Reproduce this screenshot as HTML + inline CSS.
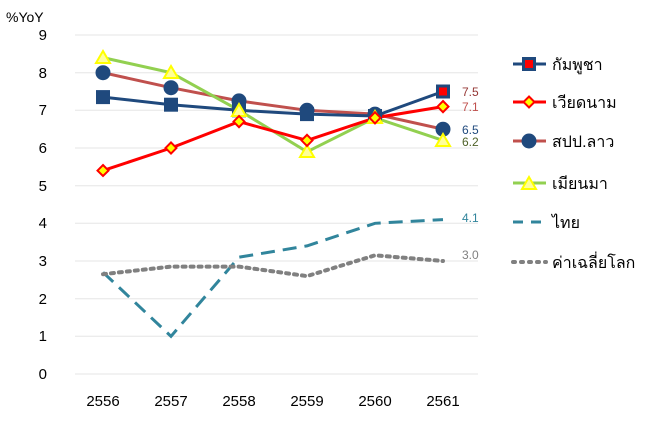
<!DOCTYPE html>
<html><head><meta charset="utf-8"><style>
body{margin:0;background:#fff}
svg{display:block;font-family:"Liberation Sans","DejaVu Sans",sans-serif}
</style></head><body>
<svg width="650" height="430" viewBox="0 0 650 430">
<g stroke="#e6e6e6" stroke-width="1">
<line x1="75" x2="478" y1="374" y2="374"/><line x1="75" x2="478" y1="336.3" y2="336.3"/>
<line x1="75" x2="478" y1="298.7" y2="298.7"/><line x1="75" x2="478" y1="261" y2="261"/>
<line x1="75" x2="478" y1="223.3" y2="223.3"/><line x1="75" x2="478" y1="185.7" y2="185.7"/>
<line x1="75" x2="478" y1="148" y2="148"/><line x1="75" x2="478" y1="110.3" y2="110.3"/>
<line x1="75" x2="478" y1="72.7" y2="72.7"/><line x1="75" x2="478" y1="35" y2="35"/>
</g>
<g font-size="15" fill="#000" text-anchor="end">
<text x="47" y="379">0</text><text x="47" y="341">1</text><text x="47" y="304">2</text>
<text x="47" y="266">3</text><text x="47" y="228">4</text><text x="47" y="191">5</text>
<text x="47" y="153">6</text><text x="47" y="115">7</text><text x="47" y="78">8</text>
<text x="47" y="40">9</text>
</g>
<text x="6" y="22" font-size="14">%YoY</text>
<g font-size="15" text-anchor="middle">
<text x="103" y="406">2556</text><text x="171" y="406">2557</text><text x="239" y="406">2558</text>
<text x="307" y="406">2559</text><text x="375" y="406">2560</text><text x="443" y="406">2561</text>
</g>
<polyline fill="none" stroke="#31859c" stroke-width="3" stroke-dasharray="14,8" points="103,272.3 171,336.3 239,257.2 307,245.9 375,223.3 443,219.6"/>
<polyline fill="none" stroke="#808080" stroke-width="4" stroke-dasharray="3,5" stroke-linecap="round" points="103,274.2 171,266.6 239,266.6 307,276.1 375,255.3 443,261"/>
<polyline fill="none" stroke="#c0504d" stroke-width="3" points="103,72.7 171,87.7 239,100.9 307,110.3 375,114.1 443,129.2"/>
<polyline fill="none" stroke="#92d050" stroke-width="3" points="103,57.6 171,72.7 239,110.3 307,151.8 375,117.8 443,140.4"/>
<polyline fill="none" stroke="#ff0000" stroke-width="3" points="103,170.6 171,148 239,121.6 307,140.4 375,117.8 443,106.6"/>
<polyline fill="none" stroke="#1f497d" stroke-width="3" points="103,97.1 171,104.7 239,110.3 307,114.1 375,116 443,91.5"/>
<g fill="#1f497d"><circle cx="103" cy="72.7" r="7.5"/><circle cx="171" cy="87.7" r="7.5"/><circle cx="239" cy="100.9" r="7.5"/><circle cx="307" cy="110.3" r="7.5"/><circle cx="375" cy="114.1" r="7.5"/><circle cx="443" cy="129.2" r="7.5"/></g>
<g fill="#1f497d"><rect x="96" y="90.1" width="14" height="14"/><rect x="164" y="97.7" width="14" height="14"/><rect x="232" y="103.3" width="14" height="14"/><rect x="300" y="107.1" width="14" height="14"/><rect x="368" y="109" width="14" height="14"/><rect x="436" y="84.5" width="14" height="14"/></g>
<rect x="439" y="87.5" width="8" height="8" fill="#ff0000"/>
<g fill="#ffff99" stroke="#ffff00" stroke-width="2"><polygon points="103,51 110,63 96,63"/><polygon points="171,66 178,78 164,78"/><polygon points="239,104 246,116 232,116"/><polygon points="307,145 314,157 300,157"/><polygon points="375,111 382,123 368,123"/><polygon points="443,134 450,146 436,146"/></g>
<g fill="#ffff00" stroke="#ff0000" stroke-width="2"><polygon points="103,165 108.5,170.6 103,176 97.5,170.6"/><polygon points="171,142.4 176.5,148 171,153.6 165.5,148"/><polygon points="239,116 244.5,121.6 239,127.2 233.5,121.6"/><polygon points="307,134.8 312.5,140.4 307,146 301.5,140.4"/><polygon points="375,112.2 380.5,117.8 375,123.4 369.5,117.8"/><polygon points="443,101 448.5,106.6 443,112.2 437.5,106.6"/></g>
<g font-size="12">
<text x="462" y="96" fill="#953735">7.5</text><text x="462" y="111" fill="#c0504d">7.1</text>
<text x="462" y="134" fill="#1f497d">6.5</text><text x="462" y="146" fill="#4f6228">6.2</text>
<text x="462" y="222" fill="#31859c">4.1</text><text x="462" y="259" fill="#808080">3.0</text>
</g>
<g font-size="16" fill="#000">
<line x1="513" x2="546" y1="64" y2="64" stroke="#1f497d" stroke-width="3"/><rect x="522" y="57" width="14" height="14" fill="#1f497d"/><rect x="525" y="60" width="8" height="8" fill="#ff0000"/>
<text x="552" y="70">กัมพูชา</text>
<line x1="513" x2="546" y1="102" y2="102" stroke="#ff0000" stroke-width="3"/><polygon points="529,96.5 534.5,102 529,107.5 523.5,102" fill="#ffff00" stroke="#ff0000" stroke-width="2"/>
<text x="552" y="108">เวียดนาม</text>
<line x1="513" x2="546" y1="141" y2="141" stroke="#c0504d" stroke-width="3"/><circle cx="529" cy="141" r="7.5" fill="#1f497d"/>
<text x="552" y="147">สปป.ลาว</text>
<line x1="513" x2="546" y1="183" y2="183" stroke="#92d050" stroke-width="3"/><polygon points="529,177 536,189 522,189" fill="#ffff99" stroke="#ffff00" stroke-width="2"/>
<text x="552" y="189">เมียนมา</text>
<line x1="513" x2="546" y1="222" y2="222" stroke="#31859c" stroke-width="3" stroke-dasharray="10,8"/>
<text x="552" y="228">ไทย</text>
<line x1="513" x2="546" y1="262" y2="262" stroke="#808080" stroke-width="4" stroke-dasharray="2,6" stroke-linecap="round"/>
<text x="552" y="268">ค่าเฉลี่ยโลก</text>
</g>
</svg>
</body></html>
